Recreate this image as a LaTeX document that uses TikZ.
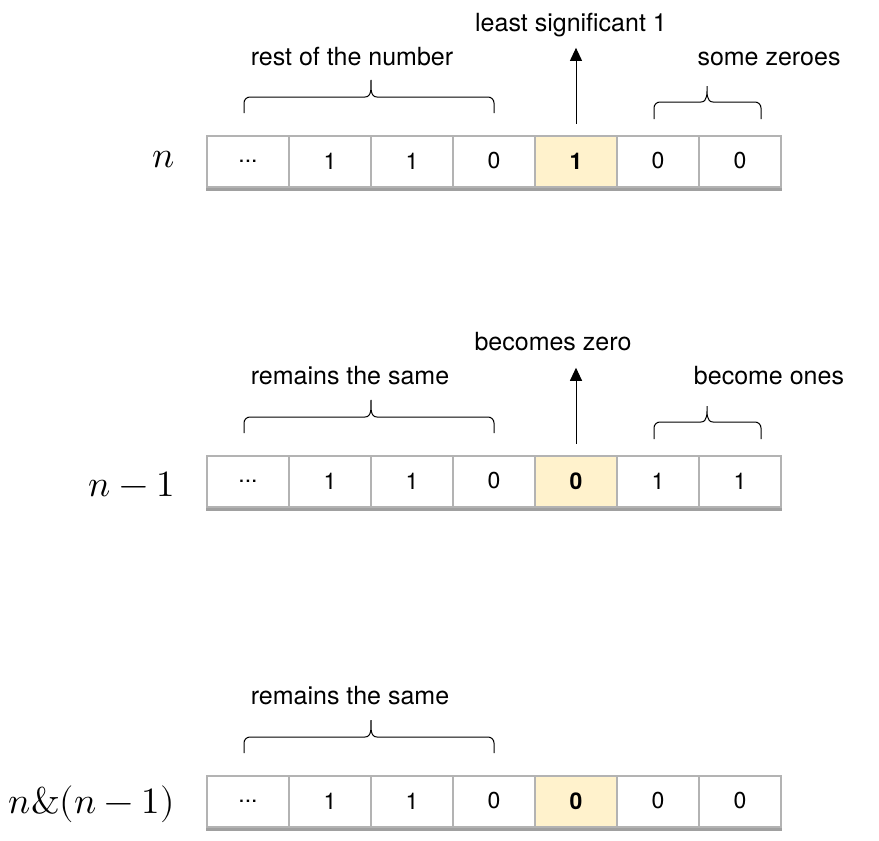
\documentclass[tikz,border=0pt]{standalone}
\usepackage{fontspec}
\usepackage{unicode-math}
\setmainfont{TeX Gyre Heros}
\setmathfont{Latin Modern Math}
\usetikzlibrary{arrows.meta}
\definecolor{mgray}{HTML}{B3B3B3}
\definecolor{mshade}{HTML}{A0A0A0}
\definecolor{mfill}{HTML}{FFF2CC}
\tikzset{mcell/.style={draw=mgray,line width=1pt,minimum width=41pt,minimum height=25.5pt,inner sep=0pt,font=\fontsize{11.5}{13}\selectfont}}
\tikzset{mlsb/.style={mcell,fill=mfill,font=\fontsize{11.5}{13}\selectfont\bfseries}}
\tikzset{mshadow/.style={draw=mshade,line width=1.4pt}}
\tikzset{mbrace/.style={draw,line width=0.5pt}}
\tikzset{mtext/.style={anchor=base,inner sep=0pt,font=\fontsize{12.5}{15}\selectfont}}
\tikzset{mlabel/.style={anchor=base east,inner sep=0pt,font=\fontsize{18.5}{22}\selectfont}}
\tikzset{marrow/.style={draw,line width=0.5pt,-{Triangle[length=6.5pt,width=6pt]}}}

\begin{document}
\begin{tikzpicture}[x=0.5pt,y=-0.5pt]
\useasboundingbox (0,0) rectangle (879,841);

% n
\node[mlabel] (l1) at (175,167) {$n$};
\node[mcell] (r1c1) at (248,161) {...};
\node[mcell] (r1c2) at (330,161) {1};
\node[mcell] (r1c3) at (412,161) {1};
\node[mcell] (r1c4) at (494,161) {0};
\node[mcell] (r1c6) at (658,161) {0};
\node[mcell] (r1c7) at (740,161) {0};
\draw[mshadow] ([yshift=-1.1pt]r1c1.south west) -- ([yshift=-1.1pt]r1c7.south east);
\node[mlsb] (r1c5) at (576,161) {1};

\node[mtext] (t1a) at (352,65) {rest of the number};
\node[mtext] (t1b) at (571,31) {least significant 1};
\node[mtext] (t1c) at (769,65) {some zeroes};
\draw[mbrace] (244,113) -- (244,103) to[out=90,in=180] (250,97) -- (365,97) to[out=0,in=-90] (371,80)
  to[out=-90,in=180] (377,97) -- (488,97) to[out=0,in=90] (494,103) -- (494,113);
\draw[mbrace] (654,119) -- (654,108) to[out=90,in=180] (660,102) -- (701,102) to[out=0,in=-90] (707,86)
  to[out=-90,in=180] (713,102) -- (755,102) to[out=0,in=90] (761,108) -- (761,119);
\draw[marrow,shorten <=5.5pt,shorten >=5.5pt] (r1c5.north) -- (r1c5.north |- t1b.south);

% n-1
\node[mlabel] (l2) at (175,496) {$n-1$};
\node[mcell] (r2c1) at (248,481) {...};
\node[mcell] (r2c2) at (330,481) {1};
\node[mcell] (r2c3) at (412,481) {1};
\node[mcell] (r2c4) at (494,481) {0};
\node[mcell] (r2c6) at (658,481) {1};
\node[mcell] (r2c7) at (740,481) {1};
\draw[mshadow] ([yshift=-1.1pt]r2c1.south west) -- ([yshift=-1.1pt]r2c7.south east);
\node[mlsb] (r2c5) at (576,481) {0};

\node[mtext] (t2a) at (350,384) {remains the same};
\node[mtext] (t2b) at (553,350) {becomes zero};
\node[mtext] (t2c) at (769,384) {become ones};
\draw[mbrace] (244,433) -- (244,423) to[out=90,in=180] (250,417) -- (365,417) to[out=0,in=-90] (371,400)
  to[out=-90,in=180] (377,417) -- (488,417) to[out=0,in=90] (494,423) -- (494,433);
\draw[mbrace] (654,439) -- (654,428) to[out=90,in=180] (660,422) -- (701,422) to[out=0,in=-90] (707,406)
  to[out=-90,in=180] (713,422) -- (755,422) to[out=0,in=90] (761,428) -- (761,439);
\draw[marrow,shorten <=5.5pt,shorten >=8.5pt] (r2c5.north) -- (r2c5.north |- t2b.south);

% n&(n-1)
\node[mlabel] (l3) at (175,813) {$n\&(n-1)$};
\node[mcell] (r3c1) at (248,801) {...};
\node[mcell] (r3c2) at (330,801) {1};
\node[mcell] (r3c3) at (412,801) {1};
\node[mcell] (r3c4) at (494,801) {0};
\node[mcell] (r3c6) at (658,801) {0};
\node[mcell] (r3c7) at (740,801) {0};
\draw[mshadow] ([yshift=-1.1pt]r3c1.south west) -- ([yshift=-1.1pt]r3c7.south east);
\node[mlsb] (r3c5) at (576,801) {0};

\node[mtext] (t3a) at (350,704) {remains the same};
\draw[mbrace] (244,753) -- (244,743) to[out=90,in=180] (250,737) -- (365,737) to[out=0,in=-90] (371,720)
  to[out=-90,in=180] (377,737) -- (488,737) to[out=0,in=90] (494,743) -- (494,753);

\end{tikzpicture}
\end{document}
